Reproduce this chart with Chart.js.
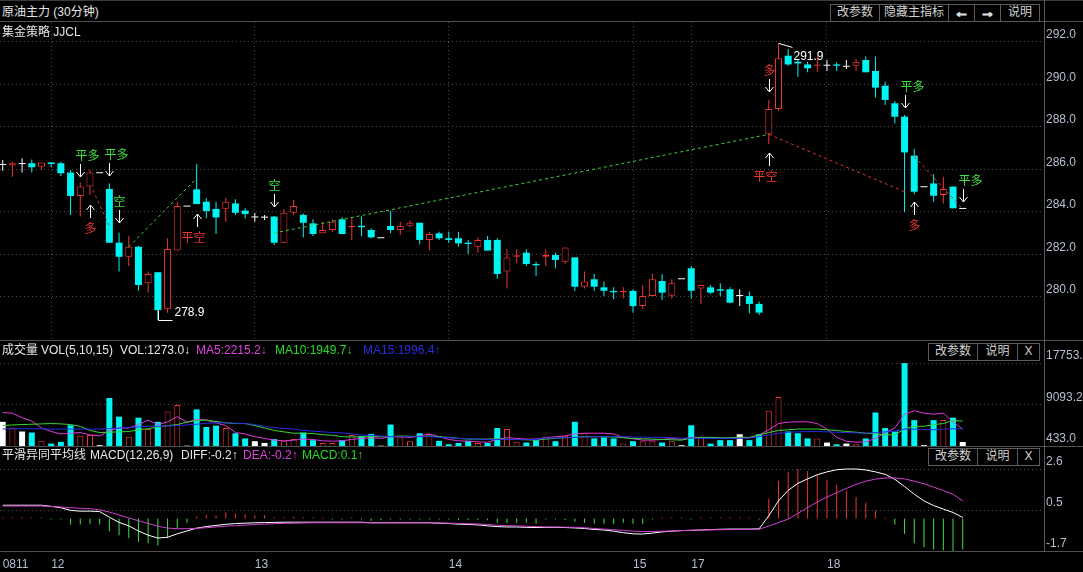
<!DOCTYPE html>
<html><head><meta charset="utf-8">
<script src="https://cdn.jsdelivr.net/npm/chart.js@4.4.1/dist/chart.umd.min.js"></script>
<style>
html,body{margin:0;padding:0;background:#000;}
#wrap{position:relative;width:1083px;height:572px;overflow:hidden;background:#000;font-family:"Liberation Sans","Noto Sans CJK SC",sans-serif;font-size:12px;}
canvas{position:absolute;left:0;}
.t{position:absolute;white-space:nowrap;line-height:16px;color:#e6e6e6;z-index:5}
.b{position:absolute;box-sizing:border-box;border:1px solid #5c5c5c;color:#d2d2d2;text-align:center;background:#000;z-index:5;line-height:15px;white-space:nowrap}
.ar{font-size:15px;font-weight:bold;-webkit-text-stroke:1.2px #e0e0e0;color:#e0e0e0;line-height:14px}
.h{position:absolute;left:0;width:1083px;height:1px;background:#505050;z-index:4}
.v{position:absolute;width:1px;background:#5a5a5a;z-index:4}
</style></head>
<body><div id="wrap">
<div class="h" style="top:0;background:#3a3a3a"></div>
<div class="t" style="left:2px;top:4px">原油主力 (30分钟)</div>
<div class="b" style="left:830px;top:4px;width:50px;height:18px">改参数</div>
<div class="b" style="left:879px;top:4px;width:70px;height:18px">隐藏主指标</div>
<div class="b ar" style="left:948px;top:4px;width:27px;height:18px">←</div>
<div class="b ar" style="left:974px;top:4px;width:27px;height:18px">→</div>
<div class="b" style="left:1000px;top:4px;width:40px;height:18px">说明</div>
<div class="h" style="top:21px"></div>
<canvas id="cMain" width="1083" height="318" style="top:22px"></canvas>
<div class="t" style="left:2px;top:24px">集金策略 JJCL</div>
<div class="h" style="top:340px"></div>
<canvas id="cVol" width="1083" height="105" style="top:341px"></canvas>
<div class="t" style="left:2px;top:342px">成交量</div>
<div class="t" style="left:41px;top:342px">VOL(5,10,15)</div>
<div class="t" style="left:120px;top:342px">VOL:1273.0↓</div>
<div class="t" style="left:196px;top:342px;color:#e040e0">MA5:2215.2↓</div>
<div class="t" style="left:275px;top:342px;color:#22dd22">MA10:1949.7↓</div>
<div class="t" style="left:363px;top:342px;color:#2b2bdc">MA15:1996.4↑</div>
<div class="b" style="left:928px;top:343px;width:50px;height:18px">改参数</div>
<div class="b" style="left:977px;top:343px;width:41px;height:18px">说明</div>
<div class="b" style="left:1017px;top:343px;width:23px;height:18px">X</div>
<div class="h" style="top:446px"></div>
<canvas id="cMacd" width="1083" height="125" style="top:447px"></canvas>
<div class="t" style="left:2px;top:447px">平滑异同平均线</div>
<div class="t" style="left:90px;top:447px">MACD(12,26,9)</div>
<div class="t" style="left:181px;top:447px">DIFF:-0.2↑</div>
<div class="t" style="left:243px;top:447px;color:#e040e0">DEA:-0.2↑</div>
<div class="t" style="left:302px;top:447px;color:#22dd22">MACD:0.1↑</div>
<div class="b" style="left:928px;top:448px;width:50px;height:18px">改参数</div>
<div class="b" style="left:977px;top:448px;width:41px;height:18px">说明</div>
<div class="b" style="left:1017px;top:448px;width:23px;height:18px">X</div>
<div class="h" style="top:551px"></div>
<div class="v" style="left:1044px;top:0;height:552px"></div>
</div>
<script>
// ---------------- DATA ----------------
const opens = [286.20,286.17,286.24,286.28,286.12,286.32,286.28,285.84,284.74,285.18,
 285.81,285.07,282.54,281.88,282.35,280.63,281.15,279.41,282.17,284.24,
 285.05,284.47,284.13,284.14,284.39,284.05,283.73,283.72,283.77,282.54,
 283.95,283.85,283.45,282.98,283.14,283.64,283.27,283.34,283.14,282.75,
 283.33,283.14,283.34,283.48,282.67,282.98,282.75,282.75,282.54,282.35,
 282.67,282.67,281.18,281.88,282.07,281.54,281.88,281.96,281.65,281.85,
 280.47,280.82,280.44,280.27,280.21,280.27,279.56,280.03,280.74,280.05,
 280.82,281.34,280.39,280.44,280.35,280.35,280.03,280.03,279.66,287.64,
 288.83,291.34,291.06,290.93,290.87,290.87,290.93,290.82,290.87,291.14,
 290.62,289.93,289.10,288.47,286.64,285.15,285.33,284.79,285.18,284.13];
const highs = [286.43,286.35,286.51,286.46,286.32,286.32,286.35,285.96,285.37,285.96,
 285.81,285.33,283.01,282.86,282.39,281.18,281.15,282.75,284.47,284.24,
 286.24,284.63,284.47,284.66,284.58,284.16,283.95,283.84,283.80,284.11,
 284.55,283.92,283.64,283.53,283.64,283.74,283.74,283.77,283.22,282.75,
 284.05,283.53,283.58,283.48,283.06,283.06,283.06,283.06,282.67,282.79,
 282.86,282.75,282.23,282.23,282.23,281.65,282.23,282.07,282.32,281.85,
 281.18,281.07,280.71,280.44,280.44,280.35,280.55,281.07,281.07,280.82,
 280.82,281.44,280.55,280.55,280.63,280.44,280.35,280.24,279.77,289.26,
 291.92,291.66,291.18,291.06,291.30,291.14,291.03,291.14,291.19,291.30,
 291.30,290.12,289.21,288.55,286.95,285.15,285.76,285.65,285.18,284.13];
const lows = [285.93,285.65,285.85,285.85,285.99,286.09,285.68,283.85,283.77,284.79,
 285.81,282.54,281.18,281.44,280.28,280.19,278.90,279.25,282.17,284.24,
 284.36,283.69,282.95,283.53,283.85,283.69,283.53,283.61,282.43,282.54,
 283.85,282.79,282.86,282.98,283.06,282.95,282.67,282.86,282.75,282.75,
 282.98,282.90,283.27,282.47,282.17,282.67,282.54,282.35,282.01,282.07,
 282.17,280.85,280.39,281.57,281.44,280.97,281.44,281.34,281.54,280.27,
 280.39,280.28,280.03,279.88,279.92,279.25,279.41,280.03,279.85,279.92,
 280.82,279.92,279.66,280.13,280.03,279.69,279.56,279.22,279.14,287.17,
 288.74,290.87,290.35,290.56,290.59,290.62,290.62,290.71,290.62,290.56,
 289.37,289.02,288.16,283.97,284.82,285.15,284.47,284.39,284.16,284.13];
const closes = [286.20,286.28,286.24,286.09,286.32,286.24,285.81,284.74,285.18,285.85,
 285.81,282.54,281.88,282.35,280.55,281.07,279.37,282.24,284.27,284.24,
 284.36,284.03,283.73,284.47,283.95,283.89,283.73,283.72,282.54,283.95,
 284.27,283.48,282.95,283.14,283.53,282.95,283.33,283.27,282.79,282.75,
 283.14,283.33,283.48,282.67,282.95,282.75,282.67,282.51,282.48,282.67,
 282.17,281.07,281.85,281.95,281.54,281.48,281.96,281.73,282.32,280.47,
 280.71,280.47,280.28,280.21,280.27,279.56,280.03,280.82,280.19,280.63,
 280.82,280.28,280.55,280.19,280.28,279.72,280.03,279.66,279.25,288.83,
 291.22,290.93,290.98,290.75,290.93,290.87,290.87,290.82,291.06,290.56,
 289.84,289.26,288.47,286.79,284.94,285.15,284.75,285.07,284.16,284.13];
const volumes = [5484,4184,3462,3246,1513,935,1296,4762,2596,2740,
 600,10467,6567,2379,6351,3968,5484,7650,9023,500,
 8084,4401,4690,4184,3101,2018,1440,1080,1874,1513,
 1874,3246,1657,1080,1080,1657,2740,2524,2957,500,
 4907,2379,1440,3101,2957,1513,790,1080,1513,1080,
 1080,4184,3968,1296,1151,1657,2379,1440,2596,5484,
 3101,2018,2235,2018,935,1440,1440,1440,1151,1440,
 600,4762,2379,935,1657,1657,2885,1657,2885,7795,
 10683,3462,3101,2018,2018,1151,790,935,790,2018,
 7434,4184,3462,17753.4,5845,600,5845,5845,6351,1273];
const volMA5 = [7434,7289,6351,5629,4184,3462,2957,3101,3246,2740,
 2524,3679,4184,4184,4907,5845,4907,5484,6567,5412,
 5990,5845,5268,4690,3246,2957,2379,2018,1657,1513,
 1657,1874,1802,1513,1440,1513,1802,2018,2163,2018,
 2379,2379,2235,2524,2957,2379,1802,1513,1440,1296,
 1224,1802,2163,2018,1874,1874,2163,2379,2524,2957,
 3101,3101,3101,2957,2235,1946,1657,1657,1802,2018,
 1802,2235,2235,2163,2018,2090,2235,2163,2740,3823,
 5123,5412,5484,5484,5123,3968,2235,1440,1224,1296,
 2018,3246,4184,7073,7795,7289,7073,7289,5412,3968];
const volMA10 = [4690,4834,4907,4979,5051,5123,5051,4907,4546,3679,
 3246,3318,3390,3462,3823,4040,4401,4690,4907,5412,
 5773,5845,5556,5268,5123,5123,4690,4184,3679,3390,
 3101,3101,3029,2812,2668,2379,2307,2379,2379,2379,
 2379,2524,2451,2379,2524,2379,2235,2018,1874,1874,
 1874,1946,1802,1802,1729,1657,1874,2018,2163,2235,
 2379,2379,2379,2307,2163,2018,1946,1874,1802,1729,
 1657,2090,2235,2235,2163,2163,2235,2235,2740,3246,
 3679,3823,3968,3968,3968,3823,3679,3462,3318,3101,
 2957,2740,2812,3968,4546,4546,4907,5123,5773,5629];
const volMA15 = [3968,4040,4040,4040,4040,3968,3968,3968,3968,3968,
 3968,4112,4184,4329,4401,4546,4546,4618,4690,4834,
 4979,5195,5268,5268,5195,5123,4907,4546,4257,4112,
 3968,3679,3535,3390,3246,3173,2957,2740,2668,2524,
 2379,2379,2379,2379,2451,2235,2163,2018,1946,1874,
 1802,1802,1802,1802,1729,1802,2090,2090,2163,2235,
 2307,2379,2379,2379,2379,2307,2307,2235,2235,2163,
 2090,2090,2018,2018,2018,2018,2018,2090,2379,2740,
 3101,3318,3390,3462,3462,3390,3318,3246,3173,3101,
 3246,3390,3535,3968,3968,3896,3823,3968,4040,3968];
const diffLine = [0.70,0.70,0.70,0.70,0.70,0.64,0.57,0.43,0.39,0.39,
 0.37,0.07,-0.20,-0.38,-0.65,-0.87,-1.02,-0.98,-0.80,-0.65,
 -0.50,-0.42,-0.36,-0.30,-0.26,-0.24,-0.22,-0.21,-0.20,-0.19,
 -0.19,-0.19,-0.19,-0.19,-0.19,-0.19,-0.19,-0.19,-0.22,-0.22,
 -0.22,-0.22,-0.22,-0.22,-0.22,-0.24,-0.26,-0.29,-0.31,-0.33,
 -0.38,-0.42,-0.44,-0.44,-0.46,-0.47,-0.46,-0.46,-0.47,-0.49,
 -0.52,-0.57,-0.60,-0.66,-0.74,-0.80,-0.81,-0.76,-0.70,-0.66,
 -0.63,-0.62,-0.60,-0.58,-0.56,-0.55,-0.55,-0.55,-0.54,0.15,
 0.93,1.48,1.85,2.08,2.30,2.45,2.56,2.60,2.60,2.55,
 2.45,2.32,2.06,1.68,1.28,0.93,0.68,0.50,0.32,0.06];
const deaLine = [0.66,0.66,0.66,0.66,0.66,0.64,0.61,0.57,0.54,0.52,
 0.46,0.34,0.19,0.03,-0.11,-0.26,-0.40,-0.50,-0.53,-0.53,
 -0.51,-0.48,-0.44,-0.40,-0.37,-0.34,-0.31,-0.29,-0.27,-0.25,
 -0.24,-0.23,-0.22,-0.22,-0.22,-0.22,-0.22,-0.22,-0.22,-0.22,
 -0.22,-0.22,-0.22,-0.22,-0.22,-0.23,-0.24,-0.26,-0.27,-0.28,
 -0.31,-0.35,-0.37,-0.38,-0.40,-0.42,-0.44,-0.44,-0.45,-0.46,
 -0.48,-0.52,-0.55,-0.58,-0.62,-0.66,-0.68,-0.68,-0.66,-0.65,
 -0.63,-0.61,-0.60,-0.59,-0.58,-0.58,-0.57,-0.57,-0.56,-0.39,
 -0.21,-0.03,0.27,0.58,0.87,1.13,1.36,1.58,1.79,1.96,
 2.07,2.13,2.13,2.08,1.96,1.83,1.65,1.47,1.27,0.93];
const macdHist = [0.03,0.03,0.03,0.03,0.03,-0.03,-0.05,-0.31,-0.31,-0.27,
 -0.31,-0.67,-0.88,-1.03,-1.21,-1.30,-1.43,-1.03,-0.49,-0.22,
 0.11,0.18,0.18,0.33,0.27,0.23,0.18,0.18,0.03,0.05,
 0.09,0.05,0.02,0.02,-0.02,-0.02,0.02,-0.02,-0.13,-0.09,
 -0.05,-0.03,-0.02,-0.03,-0.03,-0.03,-0.03,-0.07,-0.07,-0.07,
 -0.09,-0.22,-0.22,-0.22,-0.22,-0.27,-0.03,-0.03,-0.07,-0.16,
 -0.22,-0.27,-0.27,-0.27,-0.22,-0.27,-0.27,-0.03,0.02,0.02,
 0.02,-0.02,0.02,0.02,0.02,0.02,0.02,0.02,-0.02,1.05,
 1.99,2.45,2.60,2.50,2.30,2.03,1.78,1.47,1.13,0.83,
 0.43,0.05,-0.31,-0.81,-1.30,-1.50,-1.62,-1.66,-1.70,-1.62];
const dayStarts = [0,5,26,46,65,71,85];
const dayLabels = ['0811','12','13','14','15','17','18'];
const priceTicks = [280,282,284,286,288,290,292];
const volTicks = [433.0,9093.2,17753.4];
const macdTicks = [-1.7,0.45,2.6];
const macdTickLabels = ['-1.7','0.5','2.6'];
const sigIndex = [8,9,11,12,20,28,79,79,93,94,99];
const sigText  = ['平多','多','平多','空','平空','空','多','平空','平多','多','平多'];
const sigDir   = ['down','up','down','down','up','down','down','up','down','up','down'];
const sigPrice = [285.63,284.31,285.68,283.47,283.89,284.22,289.63,286.76,288.88,284.46,284.46];
const greenTrend = [[[13,282.35],[20,285.57]],[[28,283.00],[79,287.64]]];
const redTrend = [[[9.3,285.02],[11.1,283.22]],[[79,287.64],[93,284.94]],[[94,286.60],[99,284.13]]];

// ---------------- CHARTS ----------------
const X_MIN = -0.278, X_MAX = 107.38, AXIS_W = 39;
const TICK_COLOR = '#b6bfd2', GRID_COLOR = '#4b4b4b';
const UP = '#f03434', DN = '#00f4f4', FLAT = '#ffffff';
const idx = opens.map((_, i) => i);
const kinds = opens.map((o, i) => closes[i] > o ? 'up' : (closes[i] < o ? 'down' : 'flat'));
const kcol = k => k === 'up' ? UP : (k === 'down' ? DN : FLAT);
const tickFont = {family: 'Liberation Sans', size: 12};

function yAxis(min, max, ticks, fmt) {
  return {
    position: 'right', min, max, bounds: 'data',
    grid: {color: GRID_COLOR, drawTicks: false},
    border: {display: false, dash: [1, 3]},
    ticks: {color: TICK_COLOR, font: tickFont, padding: 2, labelOffset: -7, autoSkip: false, callback: (v, i) => fmt(v, i)},
    afterBuildTicks: s => { s.ticks = ticks.map(v => ({value: v})); },
    afterFit: s => { s.width = AXIS_W; s.paddingTop = 0; s.paddingBottom = 0; }
  };
}
function baseOpts(scales) {
  return {
    responsive: false, animation: false, events: [], devicePixelRatio: 1,
    layout: {padding: 0},
    plugins: {legend: {display: false}, tooltip: {enabled: false}},
    scales
  };
}
function lineDs(data, color, dash) {
  return {type: 'line', data, borderColor: color, borderWidth: 1, pointRadius: 0, tension: 0,
          borderDash: dash || [], fill: false, order: 0, clip: false};
}

// signal / marker plugin for the price panel
const signalPlugin = {
  id: 'signals',
  afterDatasetsDraw(chart) {
    const {ctx, scales: {x, y}} = chart;
    ctx.save();
    ctx.lineWidth = 1;
    ctx.strokeStyle = '#ffffff';
    ctx.textAlign = 'center';
    ctx.textBaseline = 'middle';
    ctx.font = '12px "Noto Sans CJK SC"';
    for (let k = 0; k < sigIndex.length; k++) {
      const px = Math.round(x.getPixelForValue(sigIndex[k])) + 0.5;
      const tip = Math.round(y.getPixelForValue(sigPrice[k]));
      const down = sigDir[k] === 'down';
      const tail = down ? tip - 13 : tip + 13;
      const hs = down ? -5 : 5;
      ctx.beginPath();
      ctx.moveTo(px, tail); ctx.lineTo(px, tip);
      ctx.moveTo(px - 4, tip + hs); ctx.lineTo(px, tip); ctx.lineTo(px + 4, tip + hs);
      ctx.stroke();
      const t = sigText[k];
      const red = (t === '多' || t === '平空');
      const dx = t === '平多' ? 7 : (t === '平空' ? -4 : 0);
      ctx.fillStyle = red ? '#ee3535' : '#3fe03f';
      ctx.fillText(t, px + dx, down ? tail - 9 : tail + 10);
    }
    // high / low markers
    let iH = 0, iL = 0;
    highs.forEach((h, i) => { if (h > highs[iH]) iH = i; });
    lows.forEach((l, i) => { if (l < lows[iL]) iL = i; });
    ctx.font = '12px "Liberation Sans"';
    ctx.textAlign = 'left';
    ctx.fillStyle = '#ffffff';
    const xh = Math.round(x.getPixelForValue(iH)) + 0.5, yh = y.getPixelForValue(highs[iH]);
    ctx.beginPath(); ctx.moveTo(xh, yh); ctx.lineTo(xh + 14, yh + 4); ctx.stroke();
    ctx.fillText(highs[iH].toFixed(1), xh + 15, yh + 13);
    const xl = Math.round(x.getPixelForValue(iL)) + 0.5, yl = Math.round(y.getPixelForValue(lows[iL])) + 0.5;
    ctx.beginPath(); ctx.moveTo(xl, yl - 10); ctx.lineTo(xl, yl); ctx.lineTo(xl + 14, yl); ctx.stroke();
    ctx.fillText(lows[iL].toFixed(1), xl + 16, yl - 8);
    ctx.restore();
  }
};

const trendSets = [];
greenTrend.forEach(seg => trendSets.push(lineDs(seg.map(p => ({x: p[0], y: p[1]})), '#3cd03c', [3, 3])));
redTrend.forEach(seg => trendSets.push(lineDs(seg.map(p => ({x: p[0], y: p[1]})), '#e03232', [3, 3])));

new Chart(document.getElementById('cMain'), {
  type: 'bar',
  data: {datasets: [
    {type: 'bar', data: idx.map(i => ({x: i, y: [lows[i], highs[i]]})),
     backgroundColor: kinds.map(kcol), borderWidth: 0, barThickness: 1, grouped: false, order: 3, inflateAmount: 0},
    {type: 'bar', data: idx.map(i => ({x: i, y: [opens[i], closes[i]]})),
     backgroundColor: kinds.map(k => k === 'up' ? '#000000' : kcol(k)), borderColor: kinds.map(kcol),
     borderWidth: kinds.map(k => k === 'up' ? 1 : 0), borderSkipped: false, barThickness: 7,
     minBarLength: 1, grouped: false, order: 2, inflateAmount: 0},
    ...trendSets
  ]},
  options: baseOpts({
    x: {type: 'linear', min: X_MIN, max: X_MAX, offset: false, bounds: 'data',
        grid: {display: true, offset: false, color: GRID_COLOR, drawTicks: false},
        border: {display: false, dash: [1, 3]}, ticks: {display: false},
        afterBuildTicks: s => { s.ticks = dayStarts.slice(1).map(v => ({value: v})); },
        afterFit: s => { s.height = 0; s.paddingLeft = 0; s.paddingRight = 0; }},
    y: yAxis(277.962, 292.927, priceTicks, v => v.toFixed(1))
  }),
  plugins: [signalPlugin]
});

new Chart(document.getElementById('cVol'), {
  type: 'bar',
  data: {datasets: [
    {type: 'bar', data: idx.map(i => ({x: i, y: volumes[i]})),
     backgroundColor: kinds.map(k => k === 'up' ? '#000000' : kcol(k)), borderColor: kinds.map(kcol),
     borderWidth: kinds.map(k => k === 'up' ? 1 : 0), borderSkipped: 'start', barThickness: 6,
     grouped: false, order: 3, inflateAmount: 0},
    lineDs(idx.map(i => ({x: i, y: volMA15[i]})), '#2a2ae6'),
    lineDs(idx.map(i => ({x: i, y: volMA10[i]})), '#36d636'),
    lineDs(idx.map(i => ({x: i, y: volMA5[i]})), '#dc3adc')
  ]},
  options: baseOpts({
    x: {type: 'linear', display: false, min: X_MIN, max: X_MAX, offset: false, bounds: 'data'},
    y: yAxis(433, 22370, volTicks, v => v.toFixed(1))
  })
});

new Chart(document.getElementById('cMacd'), {
  type: 'bar',
  data: {datasets: [
    {type: 'bar', data: idx.map(i => ({x: i, y: macdHist[i]})),
     backgroundColor: macdHist.map(v => v >= 0 ? '#ee3333' : '#3ee03e'), borderWidth: 0,
     barThickness: 1, minBarLength: 1, grouped: false, order: 3, inflateAmount: 0},
    lineDs(idx.map(i => ({x: i, y: deaLine[i]})), '#d040d0'),
    lineDs(idx.map(i => ({x: i, y: diffLine[i]})), '#ffffff')
  ]},
  options: baseOpts({
    x: {type: 'linear', min: X_MIN, max: X_MAX, offset: false, bounds: 'data', position: 'bottom',
        grid: {display: false, drawTicks: false}, border: {display: false},
        ticks: {color: TICK_COLOR, font: tickFont, align: 'start', padding: 6, maxRotation: 0, autoSkip: false,
                callback: (v, i) => dayLabels[i]},
        afterBuildTicks: s => { s.ticks = dayStarts.map(v => ({value: v})); },
        afterFit: s => { s.height = 21; s.paddingLeft = 0; s.paddingRight = 0; }},
    y: yAxis(-1.7, 3.754, macdTicks, (v, i) => macdTickLabels[i])
  })
});
</script>
</body></html>
